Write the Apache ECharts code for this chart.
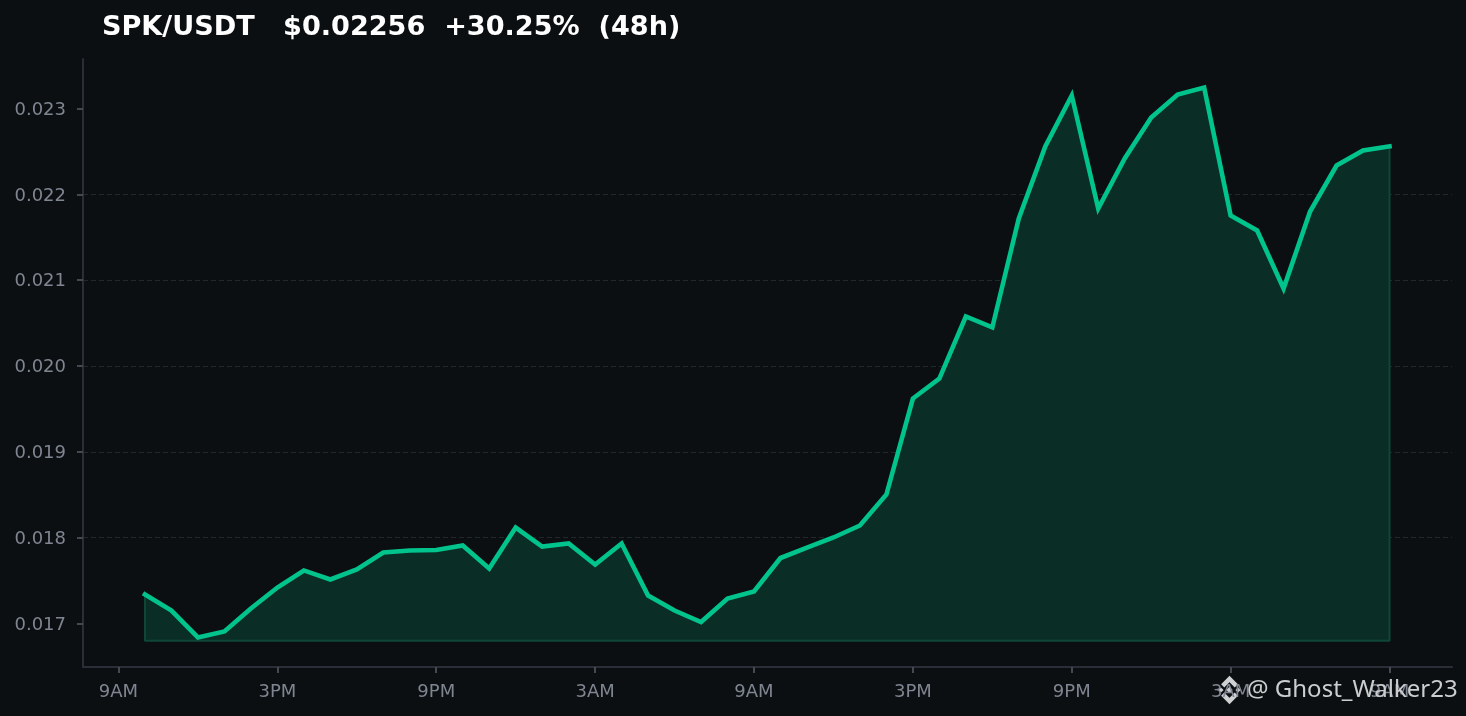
<!DOCTYPE html>
<html><head><meta charset="utf-8">
<style>html,body{margin:0;padding:0;background:#0b0f12;}#c{width:1466px;height:716px;}</style>
<script src="https://cdn.jsdelivr.net/npm/echarts@6/dist/echarts.min.js"></script>
</head><body><div id="c"></div>
<script>
const titleText = 'SPK/USDT   $0.02256  +30.25%  (48h)';
const watermark = '@ Ghost_Walker23';
const hours = [1,2,3,4,5,6,7,8,9,10,11,12,13,14,15,16,17,18,19,20,21,22,23,24,25,26,27,28,29,30,31,32,33,34,35,36,37,38,39,40,41,42,43,44,45,46,47,48];
const prices = [0.017338,0.017151,0.016837,0.016907,0.017175,0.017419,0.017618,0.017513,0.017629,0.017827,0.017851,0.017856,0.017909,0.017641,0.018118,0.017897,0.017932,0.017687,0.017932,0.017326,0.017151,0.017017,0.017291,0.017373,0.017763,0.017885,0.018002,0.018142,0.018503,0.019621,0.019854,0.020577,0.020449,0.021719,0.022558,0.023152,0.021835,0.022418,0.022895,0.023163,0.023245,0.021754,0.021579,0.020903,0.0218,0.022336,0.022511,0.02256];
const tickHours = [0,6,12,18,24,30,36,42,48];
const tickLabels = ['9AM','3PM','9PM','3AM','9AM','3PM','9PM','3AM','9AM'];
const yTicks = [0.017,0.018,0.019,0.020,0.021,0.022,0.023];
const areaBase = 0.0168;

const lineData = hours.map((h,i)=>[h,prices[i]]);
const first = hours[0], last = hours[hours.length-1];
const edgeData = [[first,prices[0]],[first,areaBase],[last,areaBase],[last,prices[prices.length-1]]];
const chart = echarts.init(document.getElementById('c'),null,{renderer:'canvas',width:1466,height:716});
const font = '"DejaVu Sans"';
const logoC = '#cfd1d3';
const lx = 1229.5, ly = 690;
function dia(cx,cy,r){return {type:'polygon',shape:{points:[[cx,cy-r],[cx+r,cy],[cx,cy+r],[cx-r,cy]]},style:{fill:logoC}};}
function chev(points){return {type:'polyline',shape:{points},style:{stroke:logoC,lineWidth:4.5,fill:null,lineJoin:'miter'}};}
chart.setOption({
  animation:false,
  backgroundColor:'#0b0f12',
  title:{text:titleText,left:97,top:9,textStyle:{color:'#ffffff',fontFamily:font,fontWeight:'bold',fontSize:27.1}},
  grid:{left:83,right:14,top:59,bottom:49,containLabel:false},
  xAxis:{type:'value',min:-1.34,max:50.36,
    axisLine:{onZero:false,lineStyle:{color:'#2a2e36',width:2}},
    axisTick:{customValues:tickHours,length:6,lineStyle:{color:'#454952',width:2}},
    axisLabel:{customValues:tickHours,margin:16,color:'#7f8591',fontFamily:font,fontSize:18,
      formatter:v=>tickLabels[tickHours.indexOf(Math.round(v))]||''},
    splitLine:{show:false}},
  yAxis:{type:'value',min:0.016493,max:0.023577,interval:0.001,
    axisLine:{show:true,onZero:false,lineStyle:{color:'#2a2e36',width:2}},
    axisTick:{show:true,customValues:yTicks,length:6,lineStyle:{color:'#454952',width:2}},
    axisLabel:{customValues:yTicks,margin:17,color:'#7f8591',fontFamily:font,fontSize:18,verticalAlign:'top',lineHeight:3,formatter:v=>v.toFixed(3)},
    splitLine:{show:true,showMinLine:false,showMaxLine:false,lineStyle:{color:'#22272b',type:[5,3],width:1}}},
  series:[
    {type:'line',data:lineData,symbol:'none',silent:true,z:2,
     lineStyle:{opacity:0},
     areaStyle:{origin:areaBase,color:'#0a2d26',opacity:1}},
    {type:'line',data:edgeData,symbol:'none',silent:true,z:3,
     lineStyle:{color:'#0f4737',width:2}},
    {type:'line',data:lineData,symbol:'none',silent:true,z:4,
     lineStyle:{color:'#00c48c',width:4.6,cap:'square',join:'miter'}}
  ],
  graphic:[
    {type:'group',z:100,silent:true,children:[
      dia(lx,ly,3.2),dia(lx-8.5,ly,2.6),dia(lx+8.5,ly,2.6),
      chev([[lx-6.8,ly-4.2],[lx,ly-11],[lx+6.8,ly-4.2]]),
      chev([[lx-6.8,ly+4.2],[lx,ly+11],[lx+6.8,ly+4.2]])
    ]},
    {type:'text',z:100,silent:true,left:1247,top:678,style:{text:watermark,fill:'#cbcdcf',font:'24px "Noto Sans"'}}
  ]
});
</script></body></html>
